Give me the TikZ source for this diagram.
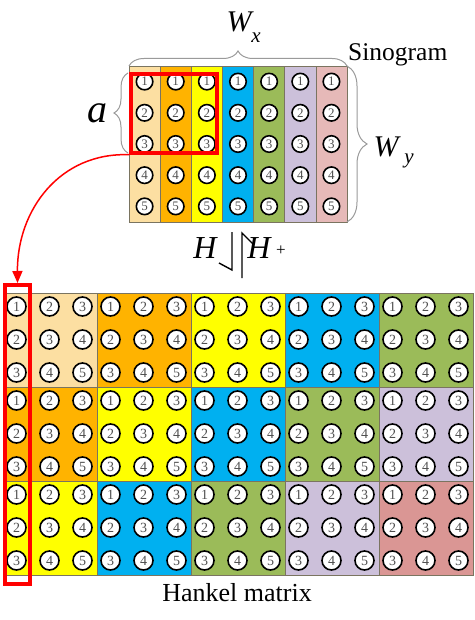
\documentclass[tikz,border=0pt]{standalone}
\usepackage{fontspec}
\setmainfont{Liberation Serif}
\newfontfamily\digitfont{Liberation Serif}
\usetikzlibrary{decorations.pathreplacing,arrows.meta}
\definecolor{cLO}{HTML}{FCDFA2}
\definecolor{cOR}{HTML}{FFB300}
\definecolor{cYE}{HTML}{FFFF00}
\definecolor{cBL}{HTML}{00B0F0}
\definecolor{cGR}{HTML}{9BBB59}
\definecolor{cLV}{HTML}{CCC0DA}
\definecolor{cPK}{HTML}{E6B9B8}
\definecolor{cPKd}{HTML}{DA9694}
\definecolor{gridc}{HTML}{7A7460}
\definecolor{bracec}{HTML}{9A9A9A}
\definecolor{digitc}{HTML}{505050}
\tikzset{
  scirc/.style={circle, draw=black, line width=1.6pt, fill=white, minimum size=16.5pt, inner sep=0pt, text=digitc, font=\digitfont\fontsize{13}{13}\selectfont},
  hcirc/.style={circle, draw=black, line width=1.6pt, fill=white, minimum size=19pt, inner sep=0pt, text=digitc, font=\digitfont\fontsize{14}{14}\selectfont},
  gridline/.style={draw=gridc, line width=0.7pt},
  bracestyle/.style={draw=bracec, line width=1pt, decorate},
  redbox/.style={draw=red, inner sep=0pt, fill=none},
  harp/.style={draw=black, line width=1.4pt, line join=miter},
}
\begin{document}
\begin{tikzpicture}[x=1pt,y=-1pt]
\useasboundingbox (0,0) rectangle (474,620);
% ---------------- Sinogram ----------------
\foreach \col [count=\i from 0] in {cLO,cOR,cYE,cBL,cGR,cLV,cPK}{
  \filldraw[fill=\col, gridline] ({129+31.143*\i},66) rectangle ++(31.143,156);
  \foreach \r in {0,...,4}{
    \pgfmathtruncatemacro\num{\r+1}
    \node[scirc] (s\i\r) at ({129+31.143*\i+15.57},{66+15.6+31.2*\r}) {\num};
  }
}
\node[redbox, line width=3.5pt, minimum width=86pt, minimum height=79pt] (sbox) at (174,113.5) {};
% braces
\draw[bracestyle, decoration={brace, amplitude=15pt}] (129,66) -- (347,66);
\draw[bracestyle, decoration={brace, amplitude=20pt}] (347,66) -- (347,222);
\draw[bracestyle, decoration={brace, amplitude=14pt}] (128,153) -- (128,73);
% labels
\node[anchor=base, inner sep=0pt] (Wx) at (239,32) {\fontsize{30}{30}\selectfont\itshape W};
\node[anchor=base, inner sep=0pt] (Wxs) at (256,43) {\fontsize{21}{21}\selectfont\itshape x};
\node[anchor=base, inner sep=0pt] (Wy) at (386,157) {\fontsize{30}{30}\selectfont\itshape W};
\node[anchor=base, inner sep=0pt] (Wys) at (409,164) {\fontsize{21}{21}\selectfont\itshape y};
\node[anchor=base, inner sep=0pt] (a) at (97,123) {\fontsize{40}{40}\selectfont\itshape a};
\node[anchor=base west, inner sep=0pt] (sino) at (348,61) {\fontsize{25.5}{25.5}\selectfont Sinogram};
% ---------------- H / H+ ----------------
\node[anchor=base, inner sep=0pt] (H) at (205,258) {\fontsize{32}{32}\selectfont\itshape H};
\node[anchor=base, inner sep=0pt] (Hp) at (259,258) {\fontsize{32}{32}\selectfont\itshape H};
\node[anchor=base, inner sep=0pt] (plus) at (281,255) {\fontsize{17}{17}\selectfont +};
\coordinate (hl1) at (232,232);
\coordinate (hl2) at (232,270);
\coordinate (hl3) at (219,263);
\coordinate (hr1) at (242,278);
\coordinate (hr2) at (242,233);
\coordinate (hr3) at (254,245);
\draw[harp] (hl1) -- (hl2) -- (hl3);
\draw[harp] (hr1) -- (hr2) -- (hr3);
% ---------------- Hankel matrix ----------------
\foreach \bi/\bj/\col in {0/0/cLO,0/1/cOR,0/2/cYE,0/3/cBL,0/4/cGR,
                          1/0/cOR,1/1/cYE,1/2/cBL,1/3/cGR,1/4/cLV,
                          2/0/cYE,2/1/cBL,2/2/cGR,2/3/cLV,2/4/cPKd}{
  \filldraw[fill=\col, gridline] ({3+94*\bj},{293+94*\bi}) rectangle ++(94,94);
  \foreach \r in {0,1,2}{
    \foreach \c in {0,1,2}{
      \pgfmathtruncatemacro\num{\r+\c+1}
      \node[hcirc] (h\bi\bj\r\c) at ({3+94*\bj+13.5+33*\c},{293+94*\bi+13.5+33*\r}) {\num};
    }
  }
}
\node[redbox, line width=4pt, minimum width=24.4pt, minimum height=299pt] (hbox) at (17.5,434.5) {};
\node[anchor=base, inner sep=0pt] (hank) at (237,601) {\fontsize{26}{26}\selectfont Hankel matrix};
% ---------------- red arrow ----------------
\draw[red, line width=1.5pt, -{Triangle[length=12pt,width=10pt]}]
  (sbox.south west) .. controls (60,152) and (17,210) .. (hbox.north);
\end{tikzpicture}
\end{document}
